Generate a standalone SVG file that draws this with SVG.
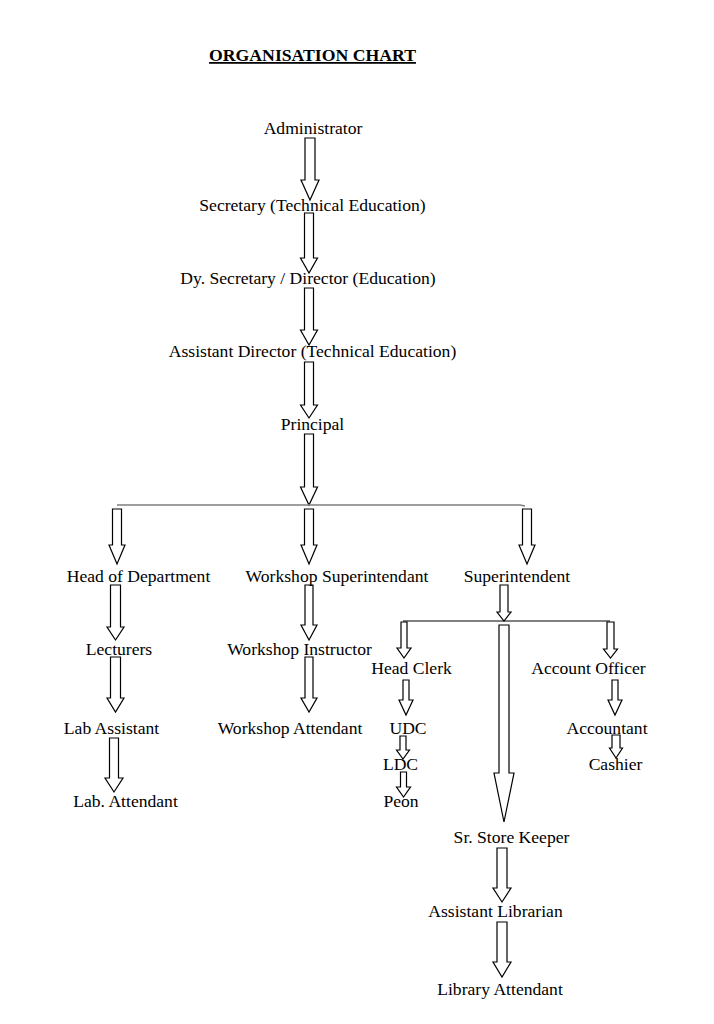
<svg xmlns="http://www.w3.org/2000/svg" width="714" height="1024" viewBox="0 0 714 1024">
<style>
text{font-family:"Liberation Serif","Times New Roman",serif;font-size:17.6px;fill:#000;text-anchor:middle}
.title{font-weight:bold;text-decoration:underline;font-size:17.7px}
.arr{fill:#fff;stroke:#000;stroke-width:1.2;stroke-linejoin:miter}
.bar{stroke:#000;stroke-width:1.2;fill:none}
.gbar{stroke:#7f7f7f;stroke-width:1.6;fill:none}
</style>
<rect width="714" height="1024" fill="#fff"/>
<text class="title" x="312.5" y="61">ORGANISATION CHART</text>
<g id="connectors">
<path class="arr" d="M305,138 H315 V180 H319 L310,200 L301,180 H305 Z"/>
<path class="arr" d="M304.5,213 H313.5 V258 H317.5 L309,273 L300.5,258 H304.5 Z"/>
<path class="arr" d="M304.5,288 H313.5 V330 H317.5 L309,345 L300.5,330 H304.5 Z"/>
<path class="arr" d="M304.5,362 H313.5 V405 H317.5 L309,418 L300.5,405 H304.5 Z"/>
<path class="arr" d="M304.5,434 H313.5 V487 H317.5 L309,505 L300.5,487 H304.5 Z"/>
<path class="gbar" d="M117,505 H520 L525,506"/>
<path class="arr" d="M112.5,509 H121.5 V545 H125 L117,564 L109,545 H112.5 Z"/>
<path class="arr" d="M304.5,509 H313.5 V545 H317 L309,564 L301,545 H304.5 Z"/>
<path class="arr" d="M522.5,509 H531.5 V545 H535 L527,564 L519,545 H522.5 Z"/>
<path class="arr" d="M110.5,585 H120.5 V627 H124 L115.5,640 L107,627 H110.5 Z"/>
<path class="arr" d="M110.5,657 H120.5 V698 H124 L115.5,712 L107,698 H110.5 Z"/>
<path class="arr" d="M109.5,738 H118.5 V778 H123 L114,792 L105,778 H109.5 Z"/>
<path class="arr" d="M305,585 H313 V625 H317 L309,640 L301,625 H305 Z"/>
<path class="arr" d="M305,657 H313 V698 H317 L309,712 L301,698 H305 Z"/>
<path class="arr" d="M500,585 H508 V612 H511 L504,621 L497,612 H500 Z"/>
<path class="bar" d="M403,621 H610"/>
<path class="arr" d="M401,622 H407 V648 H411 L404,658 L397,648 H401 Z"/>
<path class="arr" d="M499,625 H509 V773 H514 L504,822 L494,773 H499 Z"/>
<path class="arr" d="M607,622 H614 V649 H617.5 L610.5,658 L603.5,649 H607 Z"/>
<path class="arr" d="M403,680 H409 V700 H413 L406,715 L399,700 H403 Z"/>
<path class="arr" d="M612,680 H618 V700 H622 L615,715 L608,700 H612 Z"/>
<path class="arr" d="M400,736 H406 V750 H409.5 L403,759 L396.5,750 H400 Z"/>
<path class="arr" d="M400.5,772 H406.5 V787 H410.5 L403.5,797 L396.5,787 H400.5 Z"/>
<path class="arr" d="M612,735 H620 V748 H622.5 L616,758 L609.5,748 H612 Z"/>
<path class="arr" d="M497,848 H507 V888 H511 L502,902 L493,888 H497 Z"/>
<path class="arr" d="M497,922 H507 V962 H511 L502,977 L493,962 H497 Z"/>
</g>
<g id="n-administrator"><text x="313" y="134">Administrator</text></g>
<g id="n-secretary"><text x="312.5" y="211">Secretary (Technical Education)</text></g>
<g id="n-dysecretary"><text x="308" y="284">Dy. Secretary / Director (Education)</text></g>
<g id="n-asstdirector"><text x="312.5" y="357">Assistant Director (Technical Education)</text></g>
<g id="n-principal"><text x="312.5" y="430">Principal</text></g>
<g id="n-hod"><text x="138.5" y="582">Head of Department</text></g>
<g id="n-wsupt"><text x="337" y="582">Workshop Superintendant</text></g>
<g id="n-supt"><text x="517" y="582">Superintendent</text></g>
<g id="n-lecturers"><text x="119" y="655">Lecturers</text></g>
<g id="n-winstructor"><text x="299.5" y="655">Workshop Instructor</text></g>
<g id="n-headclerk"><text x="411.5" y="674">Head Clerk</text></g>
<g id="n-accofficer"><text x="588.5" y="674">Account Officer</text></g>
<g id="n-labassistant"><text x="111.5" y="734">Lab Assistant</text></g>
<g id="n-wattendant"><text x="290" y="734">Workshop Attendant</text></g>
<g id="n-udc"><text x="408" y="734">UDC</text></g>
<g id="n-accountant"><text x="607" y="734">Accountant</text></g>
<g id="n-ldc"><text x="400.5" y="770">LDC</text></g>
<g id="n-cashier"><text x="615.5" y="770">Cashier</text></g>
<g id="n-labattendant"><text x="125.5" y="807">Lab. Attendant</text></g>
<g id="n-peon"><text x="401" y="807">Peon</text></g>
<g id="n-storekeeper"><text x="511.5" y="843">Sr. Store Keeper</text></g>
<g id="n-asstlibrarian"><text x="495.5" y="917">Assistant Librarian</text></g>
<g id="n-libattendant"><text x="500" y="995">Library Attendant</text></g>
</svg>
